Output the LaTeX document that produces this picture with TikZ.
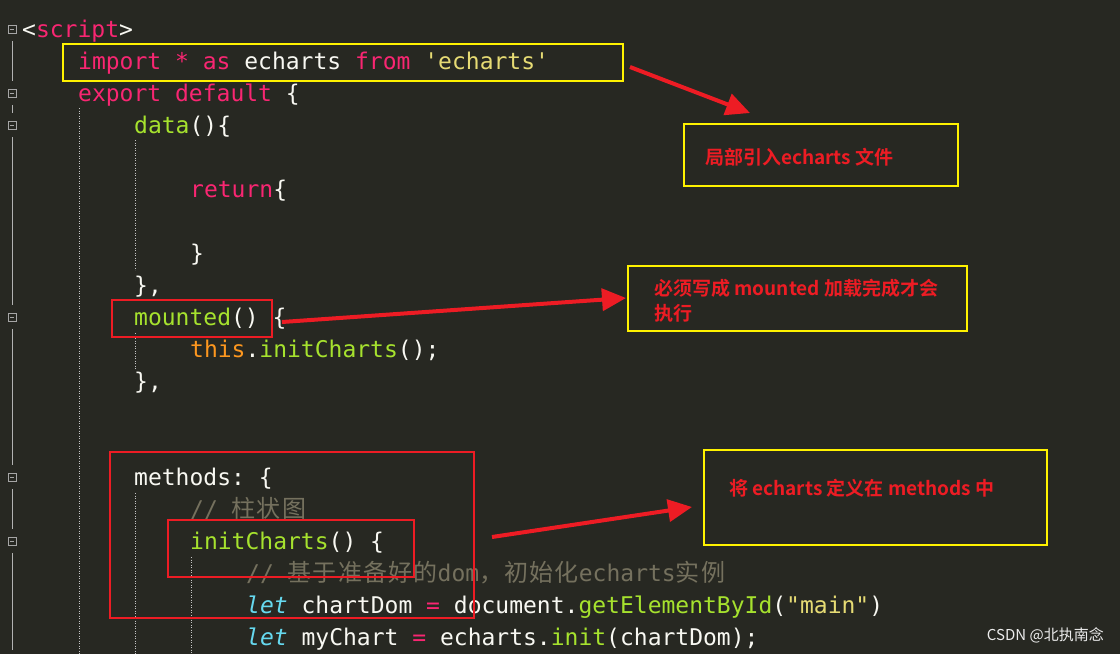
\documentclass[tikz,border=0pt]{standalone}
\usepackage{fontspec}
\usetikzlibrary{arrows.meta}
\setmonofont{DejaVu Sans Mono}
\setsansfont{Liberation Sans}
\newfontfamily\cjk{Noto Sans CJK SC}
\newfontfamily\cjkb{Noto Sans CJK SC Bold}
\definecolor{bg}{HTML}{272822}
\definecolor{kw}{HTML}{F92672}
\definecolor{tx}{HTML}{F8F8F2}
\definecolor{fn}{HTML}{A6E22E}
\definecolor{st}{HTML}{E6DB74}
\definecolor{th}{HTML}{FD971F}
\definecolor{cm}{HTML}{75715E}
\definecolor{lt}{HTML}{66D9EF}
\definecolor{ann}{HTML}{ED1C24}
\definecolor{yb}{HTML}{FFF200}
\newcommand\K[1]{\textcolor{kw}{#1}}
\newcommand\F[1]{\textcolor{fn}{#1}}
\newcommand\Sx[1]{\textcolor{st}{#1}}
\newcommand\Tx[1]{\textcolor{th}{#1}}
\newcommand\Lx[1]{\textcolor{lt}{\itshape #1}}
\newcommand\C[1]{{\cjk\fontsize{24}{24}\selectfont\addfontfeature{LetterSpace=5}#1}}
\begin{document}
\begin{tikzpicture}[x=1pt,y=-1pt,
  code/.style={anchor=base west,inner sep=0pt,text=tx,font=\ttfamily\fontsize{23}{23}\selectfont},
  ybox/.style={draw=yb,line width=2pt},
  rbox/.style={draw=ann,line width=2pt},
  atext/.style={anchor=base west,inner sep=0pt,text=ann,font=\cjkb\fontsize{19}{23}\selectfont,align=left},
  arr/.style={draw=ann,line width=4pt,-{Triangle[length=24pt,width=22pt]}},
  fold/.style={draw=gray!70,line width=0.6pt},
  guide/.style={draw=gray!45,line width=0.5pt,dotted}]
\fill[bg] (0,0) rectangle (1120,654);
\useasboundingbox (0,0) rectangle (1120,654);
% gutter
\foreach \yy in {29,93,125,317,477,541}{
  \draw[fold] (8,\yy-4) rectangle (16,\yy+4);
  \draw[fold] (10,\yy) -- (14,\yy);}
\foreach \a/\b in {37/85,101/117,133/309,325/469,485/533,549/654}{\draw[draw=gray!60,line width=0.6pt] (12,\a+4) -- (12,\b-4);}
\draw[guide] (79,108) -- (79,654);
\draw[guide] (135,140) -- (135,270);
\draw[guide] (135,333) -- (135,370);
\draw[guide] (135,493) -- (135,654);
\draw[guide] (191,557) -- (191,654);
% code
\node[code] (l1) at (22,37) {<\K{script}>};
\node[code] (l2) at (78,69) {\K{import} \K{*} \K{as} echarts \K{from} \Sx{'echarts'}};
\node[code] (l3) at (78,101) {\K{export} \K{default} \{};
\node[code] (l4) at (134,133) {\F{data}()\{};
\node[code] (l6) at (190,197) {\K{return}\{};
\node[code] (l8) at (190,261) {\}};
\node[code] (l9) at (134,293) {\},};
\node[code] (l10) at (134,325) {\F{mounted}() \{};
\node[code] (l11) at (190,357) {\Tx{this}.\F{initCharts}();};
\node[code] (l12) at (134,389) {\},};
\node[code] (l15) at (134,485) {methods: \{};
\node[code,text=cm] (l16) at (190,517) {// \C{柱状图}};
\node[code] (l17) at (190,549) {\F{initCharts}() \{};
\node[code,text=cm] (l18) at (246,581) {// \C{基于准备好的}dom\C{，初始化}echarts\C{实例}};
\node[code] (l19) at (246,613) {\Lx{let} chartDom \K{=} document.\F{getElementById}(\Sx{"main"})};
\node[code] (l20) at (246,645) {\Lx{let} myChart \K{=} echarts.\F{init}(chartDom);};
% highlight boxes
\draw[ybox] (63,44) rectangle (623,81);
\coordinate (b1) at (630,67);
\draw[rbox] (112,300) rectangle (272,337);
\coordinate (b2) at (282,322);
\draw[rbox] (110,452) rectangle (474,618);
\draw[rbox] (168,520) rectangle (414,577);
\coordinate (b3) at (492,537);
% annotations
\draw[ybox] (684,124) rectangle (958,186);
\node[atext] (a1) at (705,164) {局部引入echarts 文件};
\draw[ybox] (628,266) rectangle (967,331);
\node[atext] (a2) at (654,295) {必须写成 mounted 加载完成才会};
\node[atext] (a2b) at (654,320) {执行};
\draw[ybox] (704,450) rectangle (1047,545);
\node[atext] (a3) at (729,495) {将 echarts 定义在 methods 中};
\coordinate (t1) at (750,113);
\coordinate (t2) at (626,298);
\coordinate (t3) at (692,507);
\draw[arr] (b1) -- (t1);
\draw[arr] (b2) -- (t2);
\draw[arr] (b3) -- (t3);
\node[anchor=base east,inner sep=0pt,text=white!85!gray,font=\cjk\fontsize{15}{15}\selectfont] (wm) at (1104,640) {CSDN @北执南念};
\end{tikzpicture}
\end{document}
